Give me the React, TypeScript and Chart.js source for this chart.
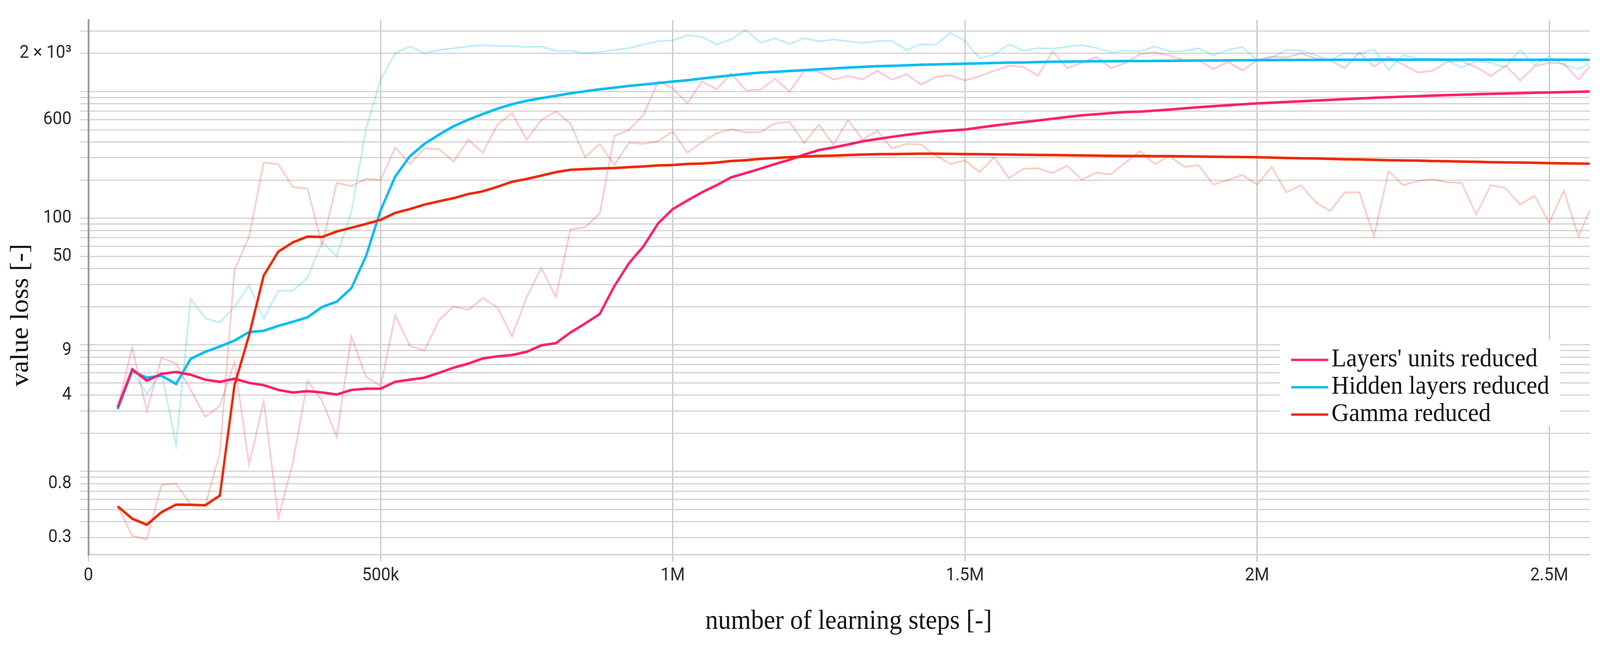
import React, { useEffect, useRef } from 'react';
import { Chart, registerables } from 'chart.js';

Chart.register(...registerables);

// learning steps (thousands)
const stepsK = [50,75,100,125,150,175,200,225,250,275,300,325,350,375,400,425,450,475,500,525,550,575,600,625,650,675,700,725,750,775,800,825,850,875,900,925,950,975,1000,1025,1050,1075,1100,1125,1150,1175,1200,1225,1250,1275,1300,1325,1350,1375,1400,1425,1450,1475,1500,1525,1550,1575,1600,1625,1650,1675,1700,1725,1750,1775,1800,1825,1850,1875,1900,1925,1950,1975,2000,2025,2050,2075,2100,2125,2150,2175,2200,2225,2250,2275,2300,2325,2350,2375,2400,2425,2450,2475,2500,2525,2550,2575];

const layersUnitsSmooth = [3.2,6.4,5.2,5.9,6.1,5.8,5.3,5.1,5.4,5.0,4.8,4.4,4.2,4.3,4.2,4.05,4.4,4.5,4.5,
  5.1,5.3,5.5,6.0,6.6,7.1,7.8,8.1,8.3,8.8,9.9,10.3,12.5,14.7,17.5,29,44,60,91,118,
  138,160,182,210,227,246,268,289,318,345,362,382,405,422,439,455,470,483,493,501,520,539,556,573,591,610,630,649,662,677,690,
  695,707,721,737,752,766,779,794,807,817,828,838,849,860,871,882,894,902,911,920,929,938,944,953,959,965,972,978,984,990,997,1003];

const hiddenLayersSmooth = [3.1,6.2,5.5,5.7,4.9,7.75,8.8,9.7,10.8,12.6,12.9,14.1,15.2,16.5,19.9,21.9,28,50,115,
  213,308,386,457,532,599,665,732,794,846,888,926,968,1006,1042,1073,1108,1137,1166,1200,
  1228,1268,1305,1343,1378,1414,1432,1455,1474,1498,1522,1546,1566,1587,1597,1613,1629,1639,1650,1660,1671,1682,1693,1698,1709,1720,1725,1731,1736,1738,1742,
  1742,1746,1750,1754,1758,1761,1764,1767,1770,1772,1774,1776,1778,1780,1782,1784,1786,1786,1786,1786,1786,1786,1786,1786,1786,1785,1785,1784,1783,1782,1782,1781];

const gammaSmooth = [0.53,0.423,0.379,0.476,0.547,0.545,0.54,0.645,4.8,11.9,35.2,54.4,64.5,71.6,71,78.5,84,90,97,
  110,118,128,136,144,155,163,177,194,204,217,231,241,244,247,249,253,256,261,263,
  268,270,275,283,287,294,299,303,307,310,312,315,318,320,321,322,323,323,322,321,320,319,318,317,316,315,314,313,312,311,310,
  310,309,309,308,307,306,305,304,303,301,299,297,296,294,292,291,289,287,286,285,283,282,280,279,277,276,275,274,272,271,270,269];

const layersUnitsRaw = [3.2,9.5,3.0,7.9,7.1,4.4,2.7,3.3,7.3,1.13,3.6,0.43,1.18,5.2,3.6,1.87,11.6,5.6,4.7,
  17.1,9.8,9.0,15.7,20.1,18.9,23.4,19.7,11.7,23.8,40.4,23.8,81.5,85,109,446,499,655,1204,1060,
  807,1204,1043,1391,1026,1033,1264,1000,1460,1436,1244,1326,1244,1460,1244,1369,1137,1305,1347,1224,1326,1460,1597,1566,1335,2077,1532,1687,1874,1532,1687,
  1982,2043,1918,1769,1769,1508,1714,1469,1769,1888,1857,2012,1828,1769,1532,2043,1582,1888,1633,1414,1460,1714,1741,1557,1326,1607,1224,1582,1687,1660,1244,1700];

const hiddenLayersRaw = [3.1,6.1,4.1,6.1,1.61,23.1,16.2,15.0,20,29.5,16.0,26.7,26.7,34,65,50,112,507,1244,
  2011,2272,2011,2130,2200,2272,2323,2286,2286,2250,2265,2097,2097,2000,2058,2125,2200,2360,2501,2535,
  2790,2700,2360,2585,3072,2424,2641,2375,2641,2495,2577,2495,2416,2504,2520,2130,2360,2344,2907,2520,1828,1960,2360,2104,2200,2185,2258,2323,2215,2036,2104,
  2077,2272,2077,2090,2200,1937,2130,2250,1758,1857,2130,2110,1937,1769,2012,1982,2158,1483,1937,1828,1816,1769,1547,1741,1687,1557,2130,1618,1900,1618,1507,1714];

const gammaRaw = [0.53,0.31,0.29,0.78,0.80,0.55,0.54,1.40,39,71.6,275,267,176,171,61,190,179,205,200,
  362,267,356,351,280,418,329,549,676,418,595,698,558,303,386,263,395,386,407,483,
  329,398,468,504,475,478,561,576,392,549,380,595,418,491,356,386,382,313,268,286,231,303,207,246,248,227,260,201,229,222,276,
  339,267,311,254,262,184,200,220,184,254,160,182,134,114,160,160,72,235,182,197,203,192,190,107,182,173,128,150,92,165,72,132];

// y grid lines (every 1..9 x 10^k) and the values that carry a label
const yGridValues = [0.3,0.4,0.5,0.6,0.7,0.8,0.9,1,2,3,4,5,6,7,8,9,10,20,30,40,50,60,70,80,90,100,200,300,400,500,600,700,800,900,1000,2000,3000];
const yLabelValues = [0.3, 0.8, 4, 9, 50, 100, 600, 2000];
const yLabelTexts = ['0.3', '0.8', '4', '9', '50', '100', '600', '2 × 10³'];

const xTickValues = [0, 500000, 1000000, 1500000, 2000000, 2500000];
const xTickLabels = ['0', '500k', '1M', '1.5M', '2M', '2.5M'];

const seriesLabels = ["Layers' units reduced", 'Hidden layers reduced', 'Gamma reduced'];

const PINK = '#ff1f6e';
const CYAN = '#00bdf0';
const RED = '#f02800';
const PINK_FADE = 'rgba(255,31,110,0.25)';
const CYAN_FADE = 'rgba(0,189,240,0.25)';
const RED_FADE = 'rgba(240,40,0,0.23)';

const SERIF = '"Liberation Serif", "DejaVu Serif", serif';
const SANS = 'Roboto, "Open Sans", sans-serif';

// drawing surface in the reference's own pixel size; CSS fits it to the window
const DRAW_W = 4362;
const DRAW_H = 1654;

const yLabelFor = (v: number) => {
  for (let j = 0; j < yLabelValues.length; j++) {
    if (Math.abs(Math.log10(v / yLabelValues[j])) < 1e-6) return yLabelTexts[j];
  }
  return '';
};

const insetLegend = {
  id: 'insetLegend',
  beforeDatasetsDraw(chart: any) {
    const { ctx, chartArea } = chart;
    const bx = chartArea.right - 845;
    const by = chartArea.top + 819;
    ctx.save();
    ctx.fillStyle = '#ffffff';
    ctx.fillRect(bx, by, 764, 220);
    const colors = [PINK, CYAN, RED];
    ctx.font = `66px ${SERIF}`;
    ctx.textAlign = 'left';
    ctx.textBaseline = 'alphabetic';
    for (let i = 0; i < seriesLabels.length; i++) {
      const base = by + 67 + i * 70;
      ctx.strokeStyle = colors[i];
      ctx.lineWidth = 6;
      ctx.beginPath();
      ctx.moveTo(bx + 31, base - 16);
      ctx.lineTo(bx + 132, base - 16);
      ctx.stroke();
      ctx.fillStyle = '#111111';
      ctx.fillText(seriesLabels[i], bx + 141, base);
    }
    ctx.restore();
  },
};

const axisTitles = {
  id: 'axisTitles',
  afterDraw(chart: any) {
    const { ctx, chartArea } = chart;
    ctx.save();
    ctx.fillStyle = '#111111';
    ctx.font = `70px ${SERIF}`;
    ctx.textAlign = 'center';
    ctx.textBaseline = 'alphabetic';
    ctx.fillText('number of learning steps [-]', (chartArea.left + chartArea.right) / 2 + 26, chartArea.bottom + 190);
    ctx.translate(76, (chartArea.top + chartArea.bottom) / 2 + 71);
    ctx.rotate(-Math.PI / 2);
    ctx.fillText('value loss [-]', 0, 0);
    ctx.restore();
  },
};

export default function App() {
  const ref = useRef<HTMLCanvasElement>(null);
  useEffect(() => {
    document.body.style.margin = '0';
    document.body.style.overflow = 'hidden';
    const canvas = ref.current as HTMLCanvasElement;
    canvas.style.width = `${window.innerWidth}px`;
    canvas.style.height = `${window.innerHeight}px`;
    const pts = (arr: number[]) => stepsK.map((s, i) => ({ x: s * 1000, y: arr[i] }));
    const mk = (label: string, arr: number[], color: string, width: number, order: number) => ({
      label,
      data: pts(arr),
      borderColor: color,
      backgroundColor: color,
      borderWidth: width,
      pointRadius: 0,
      tension: 0,
      fill: false,
      order,
    });
    const chart = new Chart(canvas, {
      type: 'line',
      data: {
        datasets: [
          mk(seriesLabels[0] + ' (raw)', layersUnitsRaw, PINK_FADE, 4.5, 5),
          mk(seriesLabels[1] + ' (raw)', hiddenLayersRaw, CYAN_FADE, 4.5, 4),
          mk(seriesLabels[2] + ' (raw)', gammaRaw, RED_FADE, 4.5, 3),
          mk(seriesLabels[0], layersUnitsSmooth, PINK, 6.5, 1),
          mk(seriesLabels[1], hiddenLayersSmooth, CYAN, 6.5, 2),
          mk(seriesLabels[2], gammaSmooth, RED, 6.5, 0),
        ],
      } as any,
      options: {
        animation: false,
        responsive: false,
        maintainAspectRatio: false,
        devicePixelRatio: 1,
        layout: { padding: { top: 28, right: 28, left: 0, bottom: 0 } },
        plugins: {
          legend: { display: false },
          tooltip: { enabled: false },
          title: { display: false },
        },
        scales: {
          x: {
            type: 'linear',
            min: 0,
            max: 2569300,
            afterBuildTicks: (s: any) => { s.ticks = xTickValues.map((v) => ({ value: v })); },
            afterFit: (s: any) => { s.height = 234; },
            grid: { color: '#a9a9a9', lineWidth: 2, tickLength: 18, drawTicks: true },
            border: { color: '#d6d6d6', width: 4 },
            ticks: {
              autoSkip: false,
              maxRotation: 0,
              padding: 9,
              color: '#2a2a2a',
              font: { family: SANS, size: 46 },
              callback: (_v: any, i: number) => xTickLabels[i],
            },
          },
          y: {
            type: 'logarithmic',
            min: 0.2202,
            max: 3665,
            afterBuildTicks: (s: any) => { s.ticks = yGridValues.map((v) => ({ value: v })); },
            afterFit: (s: any) => { s.width = 241; },
            grid: { color: '#d3d3d3', lineWidth: 3, tickLength: 22, drawTicks: true },
            border: { color: '#9c9c9c', width: 5 },
            ticks: {
              autoSkip: false,
              padding: 24,
              color: '#2a2a2a',
              font: { family: SANS, size: 46 },
              callback: (v: any) => yLabelFor(Number(v)),
            },
          },
        },
      } as any,
      plugins: [insetLegend, axisTitles],
    });
    return () => chart.destroy();
  }, []);
  return (
    <div>
      <canvas ref={ref} width={DRAW_W} height={DRAW_H} style={{ display: 'block' }} />
    </div>
  );
}
